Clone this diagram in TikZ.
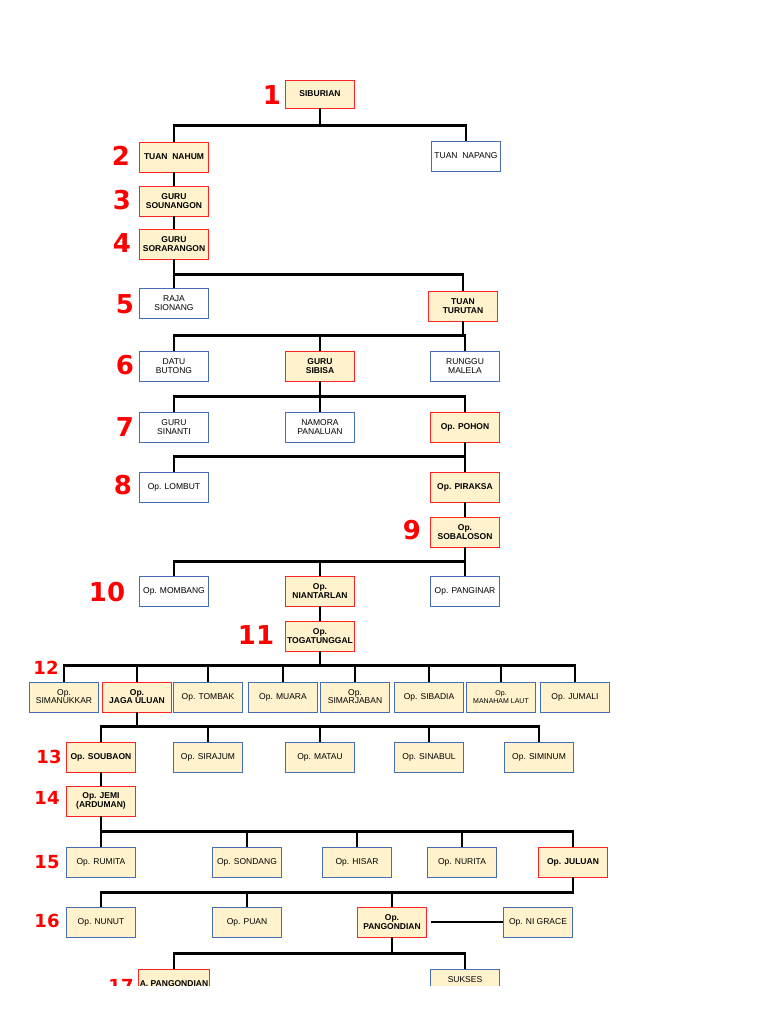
\documentclass[tikz,border=0pt]{standalone}
\usepackage{fontspec}
\setmainfont{Liberation Sans}
\newfontfamily\numfont{DejaVu Sans}

\definecolor{cream}{RGB}{255,242,204}
\definecolor{boxred}{RGB}{255,35,35}
\definecolor{boxblue}{RGB}{70,108,178}
\definecolor{genred}{RGB}{255,0,0}

\begin{document}
\begin{tikzpicture}[x=1pt,y=-1pt,
  box/.style={draw,line width=0.9pt,minimum width=69pt,minimum height=30pt,
    inner sep=1pt,align=center,font=\fontsize{8.5}{9.5}\selectfont},
  main/.style={box,draw=boxred,fill=cream,font=\fontsize{8.5}{9.5}\selectfont\bfseries},
  side/.style={box,draw=boxblue,fill=white},
  kin/.style={box,draw=boxblue,fill=cream},
  tight/.style={font=\fontsize{8.5}{8}\selectfont},
  gen/.style={text=genred,inner sep=0pt,font=\numfont\bfseries\fontsize{26}{26}\selectfont},
  gensmall/.style={text=genred,inner sep=0pt,font=\numfont\bfseries\fontsize{18}{18}\selectfont},
  link/.style={line width=2.8pt}]

\useasboundingbox (0,0) rectangle (768,1024);
\begin{scope}
\clip (0,0) rectangle (768,985);

\node[main,minimum height=28pt] (sib) at (320,94) {SIBURIAN};
\node[main] (nahum)  at (174,157) {TUAN\ \ NAHUM};
\node[side] (napang) at (466,156) {TUAN\ \ NAPANG};
\node[main] (sounangon)  at (174,201) {GURU\\SOUNANGON};
\node[main] (sorarangon) at (174,244) {GURU\\SORARANGON};
\node[side] (sionang) at (174,303) {RAJA\\SIONANG};
\node[main] (turutan) at (463,306) {TUAN\\TURUTAN};
\node[side] (butong) at (174,366) {DATU\\BUTONG};
\node[main] (sibisa) at (320,366) {GURU\\SIBISA};
\node[side] (malela) at (465,366) {RUNGGU\\MALELA};
\node[side] (sinanti)  at (174,427) {GURU\\SINANTI};
\node[side] (panaluan) at (320,427) {NAMORA\\PANALUAN};
\node[main] (pohon)    at (465,427) {Op. POHON};
\node[side] (lombut)  at (174,487) {Op. LOMBUT};
\node[main] (piraksa) at (465,487) {Op. PIRAKSA};
\node[main] (sobaloson) at (465,532) {Op.\\SOBALOSON};
\node[side] (mombang)    at (174,591) {Op. MOMBANG};
\node[main] (niantarlan) at (320,591) {Op.\\NIANTARLAN};
\node[side] (panginar)   at (465,591) {Op. PANGINAR};
\node[main] (togatunggal) at (320,636) {Op.\\TOGATUNGGAL};

\node[kin,tight] (simanukkar) at (64,697)  {Op.\\SIMANUKKAR};
\node[main,font=\fontsize{8.5}{8}\selectfont\bfseries] (jagauluan) at (137,697) {Op.\\JAGA ULUAN};
\node[kin] (tombak)       at (208,697) {Op. TOMBAK};
\node[kin] (muara)        at (283,697) {Op. MUARA};
\node[kin,tight] (simarjaban) at (355,697) {Op.\\SIMARJABAN};
\node[kin] (sibadia)      at (429,697) {Op. SIBADIA};
\node[kin,font=\fontsize{7}{7.5}\selectfont] (manaham) at (501,697) {Op.\\MANAHAM LAUT};
\node[kin] (jumali)       at (575,697) {Op. JUMALI};

\node[main] (soubaon) at (101,757) {Op. SOUBAON};
\node[kin] (sirajum)  at (208,757) {Op. SIRAJUM};
\node[kin] (matau)    at (320,757) {Op. MATAU};
\node[kin] (sinabul)  at (429,757) {Op. SINABUL};
\node[kin] (siminum)  at (539,757) {Op. SIMINUM};
\node[main] (jemi) at (101,801) {Op. JEMI\\(ARDUMAN)};

\node[kin] (rumita)  at (101,862) {Op. RUMITA};
\node[kin] (sondang) at (247,862) {Op. SONDANG};
\node[kin] (hisar)   at (357,862) {Op. HISAR};
\node[kin] (nurita)  at (462,862) {Op. NURITA};
\node[main] (juluan) at (573,862) {Op. JULUAN};
\node[kin] (nunut)   at (101,922) {Op. NUNUT};
\node[kin] (puan)    at (247,922) {Op. PUAN};
\node[main] (pangondian) at (392,922) {Op.\\PANGONDIAN};
\node[kin] (nigrace) at (538,922) {Op. NI GRACE};
\node[main] (apangondian) at (174,984) {A. PANGONDIAN};
\node[kin] (sukses) at (465,984) {SUKSES\\\phantom{X}};

\foreach \c in {nahum,napang}
  \draw[link] (sib.south) -- ++(0,17) -| (\c.north);
\draw[link] (nahum) -- (sounangon);
\draw[link] (sounangon) -- (sorarangon);
\foreach \c in {sionang,turutan}
  \draw[link] (sorarangon.south) -- ++(0,15) -| (\c.north);
\foreach \c in {butong,sibisa,malela}
  \draw[link] (turutan.south) -- ++(0,14) -| (\c.north);
\foreach \c in {sinanti,panaluan,pohon}
  \draw[link] (sibisa.south) -- ++(0,15) -| (\c.north);
\foreach \c in {lombut,piraksa}
  \draw[link] (pohon.south) -- ++(0,14) -| (\c.north);
\draw[link] (piraksa) -- (sobaloson);
\foreach \c in {mombang,niantarlan,panginar}
  \draw[link] (sobaloson.south) -- ++(0,14) -| (\c.north);
\draw[link] (niantarlan) -- (togatunggal);
\foreach \c in {simanukkar,jagauluan,tombak,muara,simarjaban,sibadia,manaham,jumali}
  \draw[link] (togatunggal.south) -- ++(0,14) -| (\c.north);
\foreach \c in {soubaon,sirajum,matau,sinabul,siminum}
  \draw[link] (jagauluan.south) -- ++(0,14) -| (\c.north);
\draw[link] (soubaon) -- (jemi);
\foreach \c in {rumita,sondang,hisar,nurita,juluan}
  \draw[link] (jemi.south) -- ++(0,15) -| (\c.north);
\foreach \c in {nunut,puan,pangondian}
  \draw[link] (juluan.south) -- ++(0,15) -| (\c.north);
\draw[link,shorten <=4pt] (pangondian.east) -- (nigrace.west);
\foreach \c in {apangondian,sukses}
  \draw[link] (pangondian.south) -- ++(0,16) -| (\c.north);

\node[gen] (g1)  at (272,95)  {1};
\node[gen] (g2)  at (121,156) {2};
\node[gen] (g3)  at (122,200) {3};
\node[gen] (g4)  at (122,243) {4};
\node[gen] (g5)  at (125,304) {5};
\node[gen] (g6)  at (125,365) {6};
\node[gen] (g7)  at (125,427) {7};
\node[gen] (g8)  at (123,485) {8};
\node[gen] (g9)  at (412,530) {9};
\node[gen] (g10) at (107,592) {10};
\node[gen] (g11) at (256,635) {11};
\node[gensmall] (g12) at (46,668)  {12};
\node[gensmall] (g13) at (49,757)  {13};
\node[gensmall] (g14) at (47,798)  {14};
\node[gensmall] (g15) at (47,862)  {15};
\node[gensmall] (g16) at (47,921)  {16};
\node[gensmall] (g17) at (121,986) {17};

\end{scope}
\end{tikzpicture}
\end{document}
